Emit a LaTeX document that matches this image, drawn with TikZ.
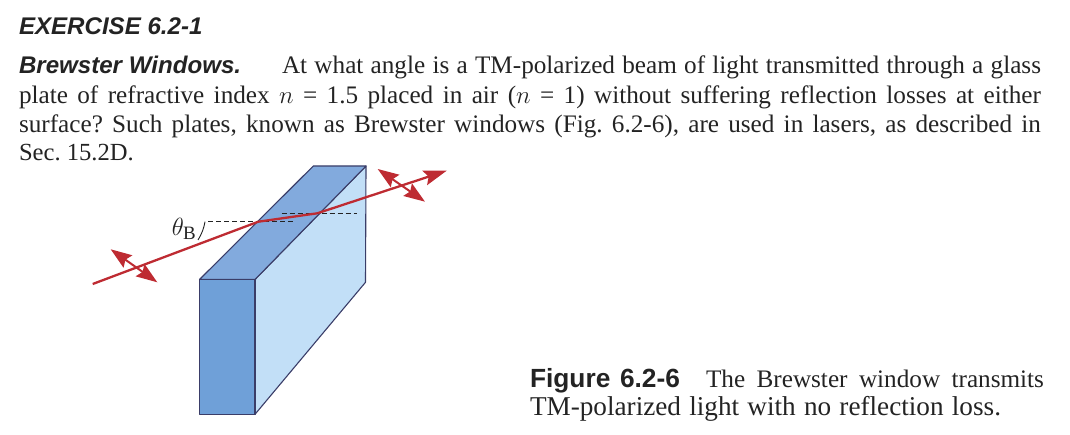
\documentclass[tikz,border=0pt]{standalone}
\usepackage{fontspec}
\setmainfont{Liberation Serif}
\setsansfont{Liberation Sans}
\usetikzlibrary{arrows.meta}
\definecolor{inkcol}{HTML}{232323}
\definecolor{edgecol}{HTML}{3A3D68}
\definecolor{frontcol}{HTML}{6FA0D8}
\definecolor{topcol}{HTML}{82AADD}
\definecolor{sidecol}{HTML}{C2DFF7}
\definecolor{raycol}{HTML}{BE2B32}
\tikzset{
  textline/.style={anchor=base west,inner sep=0pt,outer sep=0pt,text=inkcol,font=\fontsize{25.2}{28}\selectfont\frenchspacing},
  capbody/.style={textline,font=\fontsize{27.2}{28}\selectfont\frenchspacing},
  headline/.style={textline,font=\fontsize{24.1}{28}\selectfont\sffamily\bfseries\itshape},
  capline/.style={textline,font=\fontsize{26.3}{28}\selectfont\sffamily\bfseries},
  face/.style={draw=edgecol,line width=1.1pt,line join=round},
  ray/.style={draw=raycol,line width=2.3pt},
  pol/.style={draw=raycol,line width=2pt,{Stealth[length=21pt,width=15pt,inset=3pt]}-{Stealth[length=21pt,width=15pt,inset=3pt]}},
  guide/.style={draw=inkcol,line width=.7pt,dash pattern=on 5pt off 3pt},
}
\begin{document}
\begin{tikzpicture}[x=1pt,y=-1pt]
\useasboundingbox (0,0) rectangle (1070,435);
% text
\node[headline] (exercise) at (19,34.7) {EXERCISE 6.2-1};
\node[headline] (title) at (19,74) {Brewster Windows.};
\node[textline] (lineA) at (282,74) {\makebox[759pt][s]{At what angle is a TM-polarized beam of light transmitted through a glass}};
\node[textline] (lineB) at (19,104) {\makebox[1022pt][s]{plate of refractive index \(n\) = 1.5 placed in air (\(n\) = 1) without suffering reflection losses at either}};
\node[textline] (lineC) at (19,132.7) {\makebox[1022pt][s]{surface? Such plates, known as Brewster windows (Fig. 6.2-6), are used in lasers, as described in}};
\node[textline,font=\fontsize{24.6}{28}\selectfont\frenchspacing] (lineD) at (19,161) {Sec. 15.2D.};
\node[capline] (figlabel) at (530,387) {\makebox[150pt][s]{Figure 6.2-6}};
\node[textline] (capA) at (706,387) {\makebox[338pt][s]{The Brewster window transmits}};
\node[capbody] (capB) at (530,415) {\makebox[471pt][s]{TM-polarized light with no reflection loss.}};
% plate
\coordinate (frontTL) at (199.5,279.5);
\coordinate (frontTR) at (255,279.5);
\coordinate (frontBR) at (255,414.3);
\coordinate (frontBL) at (199.5,414.3);
\coordinate (backTL) at (313.3,166);
\coordinate (backTR) at (366,166);
\coordinate (backBR) at (365.5,282.3);
\draw[face,fill=sidecol] (frontTR) -- (backTR) -- (backBR) -- (frontBR) -- cycle;
\draw[face,fill=topcol] (frontTL) -- (backTL) -- (backTR) -- (frontTR) -- cycle;
\draw[face,fill=frontcol] (frontTL) -- (frontTR) -- (frontBR) -- (frontBL) -- cycle;
% dashed normals
\coordinate (normA) at (208.3,221.7);
\coordinate (normAend) at (293.3,221.7);
\coordinate (normB) at (281.7,213.3);
\coordinate (normBend) at (356.7,213.3);
\draw[guide] (normA) -- (normAend);
\draw[guide] (normB) -- (normBend);
% ray
\coordinate (rayStart) at (92.7,284);
\coordinate (hitA) at (258.3,221.7);
\coordinate (hitB) at (317.3,213.3);
\coordinate (rayEnd) at (446.7,170.7);
\draw[ray] (rayStart) -- (hitA) -- (hitB);
\draw[ray,-{Stealth[length=23pt,width=15pt,inset=4pt]}] (hitB) -- (rayEnd);
% polarization
\coordinate (polAa) at (110.7,249.3);
\coordinate (polAb) at (157.3,282.3);
\coordinate (polBa) at (377.7,169);
\coordinate (polBb) at (425,201.7);
\draw[pol] (polAa) -- (polAb);
\draw[pol] (polBa) -- (polBb);
% angle
\coordinate (arcA) at (205,221.7);
\coordinate (arcB) at (198,240);
\draw[draw=inkcol,line width=.9pt] (arcA) to[bend left=10] (arcB);
\node[inner sep=0pt,text=inkcol,font=\fontsize{27}{29}\selectfont] (thetaB) at (184,229) {\(\theta_{\mathrm{B}}\)};
\end{tikzpicture}
\end{document}
